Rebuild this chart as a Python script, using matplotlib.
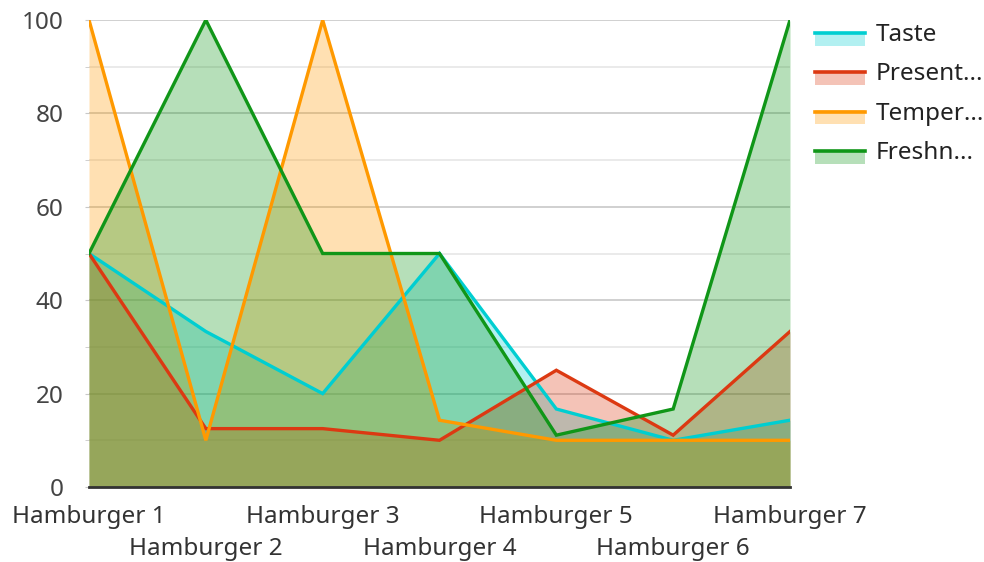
import matplotlib.pyplot as plt
from matplotlib.legend_handler import HandlerBase
from matplotlib.patches import Rectangle
from matplotlib.lines import Line2D

plt.rcParams['font.family'] = ['Noto Sans', 'DejaVu Sans']

burgers = ["Hamburger 1", "Hamburger 2", "Hamburger 3", "Hamburger 4",
           "Hamburger 5", "Hamburger 6", "Hamburger 7"]
taste = [50, 33.3, 20, 50, 16.7, 10, 14.3]
presentation = [50, 12.5, 12.5, 10, 25, 11.1, 33.3]
temperature = [100, 10, 100, 14.3, 10, 10, 10]
freshness = [50, 100, 50, 50, 11.1, 16.7, 100]

series = [
    ("Taste", taste, "#00CED1"),
    ("Present...", presentation, "#DC3912"),
    ("Temper...", temperature, "#FF9900"),
    ("Freshn...", freshness, "#109618"),
]


class AreaHandler(HandlerBase):
    # line on top, light filled box underneath
    def __init__(self, color):
        super().__init__()
        self.color = color

    def create_artists(self, legend, orig_handle, xdescent, ydescent,
                       width, height, fontsize, trans):
        top = -ydescent + height * 0.55
        rect = Rectangle((-xdescent, top - 14 * 0.72), width, 14 * 0.72,
                         facecolor=self.color, alpha=0.3, edgecolor="none",
                         transform=trans)
        line = Line2D([-xdescent, -xdescent + width], [top - 1, top - 1],
                      color=self.color, lw=2.6, transform=trans)
        return [rect, line]


fig = plt.figure(figsize=(9.84, 5.62), dpi=100)
ax = fig.add_axes([89 / 984, 1 - 487 / 562, 701 / 984, 467 / 562])

x = list(range(len(burgers)))
for name, vals, col in series:
    ax.fill_between(x, vals, 0, color=col, alpha=0.3, linewidth=0)
for name, vals, col in series:
    ax.plot(x, vals, color=col, lw=2.4, solid_joinstyle="miter")

ax.set_xlim(0, len(burgers) - 1)
ax.set_ylim(0, 100)
ax.set_yticks(range(0, 101, 20))
ax.set_yticks(range(10, 100, 20), minor=True)
ax.grid(True, which="major", axis="y", color="#c8c8c8", lw=1.2)
ax.grid(True, which="minor", axis="y", color="#e6e6e6", lw=1.2)
ax.set_axisbelow(True)
ax.tick_params(axis="y", which="both", length=3, color="#c8c8c8",
               labelsize=17.5, labelcolor="#444444", pad=15.5)
for s in ["top", "right", "left"]:
    ax.spines[s].set_visible(False)
ax.spines["bottom"].set_color("#333333")
ax.spines["bottom"].set_linewidth(2)
ax.spines["bottom"].set_zorder(5)

ax.set_xticks(x)
ax.set_xticklabels([])
ax.tick_params(axis="x", length=0)
for i, lab in enumerate(burgers):
    dy = -30 if i % 2 == 0 else -62
    ax.annotate(lab, (i, 0), xytext=(0, dy), textcoords="offset pixels",
                ha="center", va="center", fontsize=17.5, color="#333333",
                annotation_clip=False)

handles = [Rectangle((0, 0), 1, 1) for _ in series]
hmap = {h: AreaHandler(col) for h, (n, v, col) in zip(handles, series)}
fig.legend(handles, [n for n, v, c in series], handler_map=hmap,
           loc="upper left", bbox_to_anchor=(815 / 984, 1 - 23 / 562),
           frameon=False, borderpad=0, borderaxespad=0,
           fontsize=17.5, labelcolor="#222222", handlelength=2.06,
           handleheight=0.7, labelspacing=0.63, handletextpad=0.42)

fig.savefig("out.png", dpi=100)
